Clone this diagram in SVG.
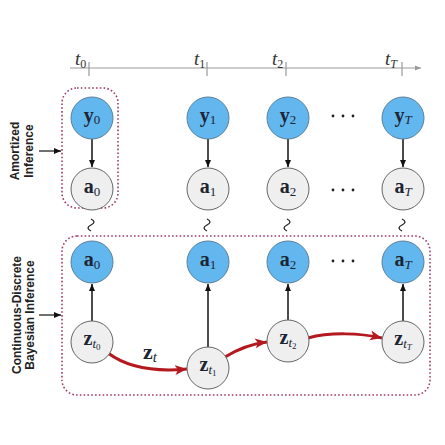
<svg xmlns="http://www.w3.org/2000/svg" width="445" height="445" viewBox="0 0 445 445">
<style>
.blue{fill:#62b7ef;stroke:#5b7f99;stroke-width:1}
.grey{fill:#efefef;stroke:#666;stroke-width:1}
.lbl{font-family:"Liberation Serif","DejaVu Serif",serif;font-size:20px;font-weight:bold;fill:#1d2533;text-anchor:middle}
.big{font-size:22px}
.sub{font-size:13px;font-weight:normal}
.subi{font-size:13px;font-weight:normal;font-style:italic}
.subs{font-size:9px;font-weight:normal}
.side{font-family:"Liberation Sans",Arial,sans-serif;font-size:12px;font-weight:bold;fill:#222;text-anchor:middle}
.tl{font-family:"Liberation Serif","DejaVu Serif",serif;font-size:19px;font-style:italic;fill:#333}
.tsub{font-size:12px;font-style:normal}
.box{fill:none;stroke:#a33a6a;stroke-width:1.6;stroke-dasharray:1.6 2.2}
.blk{stroke:#111;stroke-width:1.5;fill:none;marker-end:url(#ab)}
.red{stroke:#b3191f;stroke-width:3;fill:none;marker-end:url(#ar)}
.tick{stroke:#999;stroke-width:1.2}
.tilde{stroke:#222;stroke-width:1.3;fill:none}
</style>
<defs>
<marker id="ab" markerUnits="userSpaceOnUse" markerWidth="8" markerHeight="8" refX="7" refY="4" orient="auto"><path d="M0,1 L7,4 L0,7 Z" fill="#111"/></marker>
<marker id="ar" markerUnits="userSpaceOnUse" markerWidth="14" markerHeight="12" refX="12" refY="6" orient="auto"><path d="M0,1 L12,6 L0,11 L3,6 Z" fill="#b3191f"/></marker>
<marker id="ag" markerUnits="userSpaceOnUse" markerWidth="8" markerHeight="8" refX="6" refY="4" orient="auto"><path d="M0,1.5 L6,4 L0,6.5 Z" fill="#999"/></marker>
</defs>

<g id="timeline">
<line x1="70" y1="68" x2="421" y2="68" stroke="#999" stroke-width="1.2" marker-end="url(#ag)"/>
<line class="tick" x1="89" y1="62" x2="89" y2="76"/>
<line class="tick" x1="207" y1="62" x2="207" y2="76"/>
<line class="tick" x1="286" y1="62" x2="286" y2="76"/>
<line class="tick" x1="402" y1="62" x2="402" y2="76"/>
<text class="tl" x="75" y="65">t<tspan class="tsub" dy="3">0</tspan></text>
<text class="tl" x="194" y="65">t<tspan class="tsub" dy="3">1</tspan></text>
<text class="tl" x="272" y="65">t<tspan class="tsub" dy="3">2</tspan></text>
<text class="tl" x="385" y="65">t<tspan class="tsub" style="font-style:italic" dy="3">T</tspan></text>
</g>

<g id="labels">
<text class="side" transform="translate(19,151) rotate(-90)">Amortized</text>
<text class="side" transform="translate(33,151) rotate(-90)">Inference</text>
<text class="side" transform="translate(21,315) rotate(-90)">Continuous-Discrete</text>
<text class="side" transform="translate(34,315) rotate(-90)">Bayesian Inference</text>
</g>

<g id="boxes">
<rect id="amortized-box" class="box" x="62" y="88" width="56" height="120" rx="15"/>
<rect id="cd-box" class="box" x="62" y="236" width="368" height="159" rx="15"/>
</g>

<g id="connectors">
<line x1="39" y1="151" x2="61" y2="151" stroke="#111" stroke-width="1.2" marker-end="url(#ab)"/>
<line x1="39" y1="315" x2="61" y2="315" stroke="#111" stroke-width="1.2" marker-end="url(#ab)"/>
<line class="blk" x1="92" y1="139" x2="92" y2="167"/>
<line class="blk" x1="208" y1="139" x2="208" y2="167"/>
<line class="blk" x1="288" y1="139" x2="288" y2="167"/>
<line class="blk" x1="403" y1="139" x2="403" y2="167"/>
<line class="blk" x1="92" y1="321" x2="92" y2="284"/>
<line class="blk" x1="208" y1="347" x2="208" y2="284"/>
<line class="blk" x1="288" y1="320" x2="288" y2="284"/>
<line class="blk" x1="403" y1="321" x2="403" y2="284"/>
<path class="red" d="M108,353 C128,368 155,372 187,369"/>
<path class="red" d="M225,357 C238,349 250,344 267,342"/>
<path class="red" d="M308,338 C330,332 360,333 382,338"/>
<text class="lbl big" x="150" y="359">z<tspan class="subi" style="font-size:15px" dy="3">t</tspan></text>
<path class="tilde" d="M91,219 c4,2 4,4 0,6 c-4,2 -4,4 0,6"/>
<path class="tilde" d="M207,219 c4,2 4,4 0,6 c-4,2 -4,4 0,6"/>
<path class="tilde" d="M287,219 c4,2 4,4 0,6 c-4,2 -4,4 0,6"/>
<path class="tilde" d="M402,219 c4,2 4,4 0,6 c-4,2 -4,4 0,6"/>
</g>

<g id="dots" fill="#222">
<circle cx="333" cy="116" r="1.4"/><circle cx="343" cy="116" r="1.4"/><circle cx="353" cy="116" r="1.4"/>
<circle cx="333" cy="190" r="1.4"/><circle cx="343" cy="190" r="1.4"/><circle cx="353" cy="190" r="1.4"/>
<circle cx="333" cy="261" r="1.4"/><circle cx="343" cy="261" r="1.4"/><circle cx="353" cy="261" r="1.4"/>
</g>

<g id="y0"><circle class="blue" cx="92" cy="118" r="21"/><text class="lbl" x="92" y="122">y<tspan class="sub" dy="2">0</tspan></text></g>
<g id="y1"><circle class="blue" cx="208" cy="118" r="21"/><text class="lbl" x="208" y="122">y<tspan class="sub" dy="2">1</tspan></text></g>
<g id="y2"><circle class="blue" cx="288" cy="118" r="21"/><text class="lbl" x="288" y="122">y<tspan class="sub" dy="2">2</tspan></text></g>
<g id="yT"><circle class="blue" cx="403" cy="118" r="21"/><text class="lbl" x="403" y="122">y<tspan class="subi" dy="2">T</tspan></text></g>

<g id="a0"><circle class="grey" cx="92" cy="189" r="21"/><text class="lbl" x="92" y="193">a<tspan class="sub" dy="3">0</tspan></text></g>
<g id="a1"><circle class="grey" cx="208" cy="189" r="21"/><text class="lbl" x="208" y="193">a<tspan class="sub" dy="3">1</tspan></text></g>
<g id="a2"><circle class="grey" cx="288" cy="189" r="21"/><text class="lbl" x="288" y="193">a<tspan class="sub" dy="3">2</tspan></text></g>
<g id="aT"><circle class="grey" cx="403" cy="189" r="21"/><text class="lbl" x="403" y="193">a<tspan class="subi" dy="3">T</tspan></text></g>

<g id="a0b"><circle class="blue" cx="92" cy="262" r="21"/><text class="lbl" x="92" y="266">a<tspan class="sub" dy="3">0</tspan></text></g>
<g id="a1b"><circle class="blue" cx="208" cy="262" r="21"/><text class="lbl" x="208" y="266">a<tspan class="sub" dy="3">1</tspan></text></g>
<g id="a2b"><circle class="blue" cx="288" cy="262" r="21"/><text class="lbl" x="288" y="266">a<tspan class="sub" dy="3">2</tspan></text></g>
<g id="aTb"><circle class="blue" cx="403" cy="262" r="21"/><text class="lbl" x="403" y="266">a<tspan class="subi" dy="3">T</tspan></text></g>

<g id="zt0"><circle class="grey" cx="92" cy="342" r="21"/><text class="lbl" x="92" y="345">z<tspan class="subi" dy="3">t</tspan><tspan class="subs" dy="2">0</tspan></text></g>
<g id="zt1"><circle class="grey" cx="208" cy="368" r="21"/><text class="lbl" x="208" y="371">z<tspan class="subi" dy="3">t</tspan><tspan class="subs" dy="2">1</tspan></text></g>
<g id="zt2"><circle class="grey" cx="288" cy="341" r="21"/><text class="lbl" x="288" y="344">z<tspan class="subi" dy="3">t</tspan><tspan class="subs" dy="2">2</tspan></text></g>
<g id="ztT"><circle class="grey" cx="403" cy="342" r="21"/><text class="lbl" x="403" y="345">z<tspan class="subi" dy="3">t</tspan><tspan class="subs" dy="2" style="font-style:italic">T</tspan></text></g>
</svg>
